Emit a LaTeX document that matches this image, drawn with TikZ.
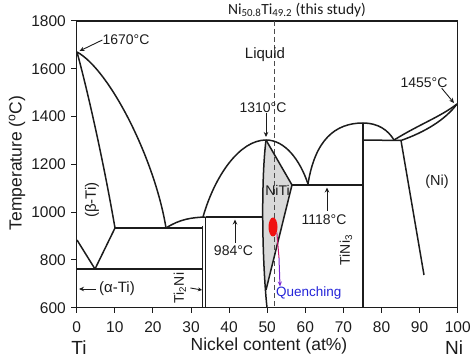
\documentclass[tikz,border=0pt]{standalone}
\usepackage{fontspec}
\setmainfont{Liberation Sans}
\newfontfamily\titlefont{Carlito}
\usetikzlibrary{arrows.meta,shapes.geometric}
\definecolor{linec}{HTML}{1C1C1C}
\definecolor{nitigray}{HTML}{D9D9D9}
\definecolor{dotred}{HTML}{F01010}
\definecolor{qpink}{HTML}{C8186E}
\definecolor{qpurple}{HTML}{7A22D0}
\definecolor{qblue}{HTML}{2323D8}
\begin{document}
\begin{tikzpicture}[x=1pt,y=-1pt,
  ph/.style={line width=1.5pt, draw=linec, line join=round},
  frame/.style={line width=1.5pt, draw=linec},
  lbl/.style={font=\fontsize{14}{16}\selectfont, inner sep=0pt, text=linec},
  ticklbl/.style={font=\fontsize{15.5}{17}\selectfont, inner sep=0pt, text=linec},
  axlbl/.style={font=\fontsize{17.5}{19}\selectfont, inner sep=0pt, text=linec},
  ptr/.style={-{Stealth[length=5pt,width=4.5pt]}, line width=0.9pt, draw=linec}]
\useasboundingbox (0,0) rectangle (474,363);

% NiTi single-phase region
\fill[nitigray] (266,140) .. controls (261,180) and (262,260) .. (267,307) -- (266,288) -- (292,185) -- cycle;

% frame and ticks
\draw[frame] (76.7,21) rectangle (457.7,307.7);
\foreach \t/\yy in {1800/21,1600/68.78,1400/116.56,1200/164.34,1000/212.12,800/259.9,600/307.68}{
  \draw[frame, line width=1pt] (71,\yy) -- (76.7,\yy);
  \node[ticklbl, anchor=east] (yl\t) at (66,\yy) {\t};
}
\foreach \v/\xx in {0/76.7,10/114.8,20/152.9,30/191.0,40/229.1,50/267.2,60/305.3,70/343.4,80/381.5,90/419.6,100/457.7}{
  \draw[frame, line width=1pt] (\xx,307.7) -- (\xx,313);
  \node[ticklbl] (xl\v) at (\xx,327.5) {\v};
}

% axis labels
\node[axlbl, rotate=90] (ylab) at (17,163) {Temperature (\textsuperscript{o}C)};
\node[axlbl] (xlab) at (269,346) {Nickel content (at\%)};
\node[font=\fontsize{19}{21}\selectfont, inner sep=0pt, text=linec] (ti) at (79,348) {Ti};
\node[font=\fontsize{19}{21}\selectfont, inner sep=0pt, text=linec] (ni) at (454,348) {Ni};

% composition line
\node[font=\titlefont\fontsize{15.5}{17}\selectfont, inner sep=0pt, text=linec] (title) at (297,10) {Ni\textsubscript{50.8}Ti\textsubscript{49.2} (this study)};
\draw[gray!60!black, line width=0.9pt, dash pattern=on 5pt off 3pt] (274,21) -- (274,307.7);

% Ti side
\draw[ph] (77,52) .. controls (110,70) and (155,160) .. (166,228);
\draw[ph] (77,52) .. controls (90,100) and (105,170) .. (115,228);
\draw[ph] (115,228) -- (202.5,228);
\draw[ph] (166,228) .. controls (180,219) and (192,217.5) .. (205.5,217);
\draw[ph] (77,240) -- (95,269) -- (115,228);
\draw[ph] (77,269) -- (202.5,269);
\draw[ph] (202.5,226) -- (202.5,307.7);
\draw[ph] (205.5,217) -- (205.5,307.7);

% NiTi
\draw[ph] (205.5,217) -- (262.5,217);
\draw[ph] (203,217) .. controls (215,175) and (240,140) .. (266,140);
\draw[ph] (266,140) .. controls (285,140) and (300,160) .. (308,184);
\draw[ph] (266,140) .. controls (261,180) and (262,260) .. (267,307.7);
\draw[ph] (266,140) -- (292,185) -- (266,290);
\draw[ph] (292,185) -- (363,185);

% TiNi3 and Ni side
\draw[ph] (308,184) .. controls (315,140) and (335,123) .. (363,123) .. controls (378,123) and (388,130) .. (394,140);
\draw[ph] (363,123) -- (363,307.7);
\draw[ph] (363,140) -- (401,140.5);
\draw[ph] (394,140) .. controls (420,124) and (440,117) .. (457,104);
\draw[ph] (401,140.5) .. controls (425,132) and (445,120) .. (457,104);
\draw[ph] (401,140.5) -- (424,275);

% labels
\node[lbl] (t1670) at (126,40) {1670°C};
\coordinate (p1670) at (79.5,51);
\draw[ptr] (t1670.west) -- (p1670);

\node[lbl, font=\fontsize{15}{17}\selectfont] (liquid) at (265,55) {Liquid};

\node[lbl] (t1310) at (263,108) {1310°C};
\coordinate (p1310) at (266,137);
\draw[ptr] ([xshift=3pt]t1310.south) -- (p1310);

\node[lbl] (t1455) at (424,83) {1455°C};
\coordinate (p1455) at (454,103);
\draw[ptr] ([xshift=-6pt]t1455.south east) -- (p1455);

\node[lbl, font=\fontsize{15}{17}\selectfont, rotate=90] (beta) at (92,200) {(β-Ti)};
\node[lbl, font=\fontsize{15}{17}\selectfont] (alpha) at (117,289) {(α-Ti)};
\coordinate (palpha) at (79,289);
\draw[ptr] (alpha.west) ++(-3,0) -- (palpha);

\node[lbl, rotate=90] (ti2ni) at (180,288) {Ti\textsubscript{2}Ni};
\coordinate (pti2ni) at (202,290);
\draw[ptr, -{Stealth[length=4pt,width=4pt]}] ([xshift=4pt]ti2ni.south) -- (pti2ni);

\node[lbl] (t984) at (233.5,251) {984°C};
\coordinate (p984) at (235,219.5);
\draw[ptr] ([xshift=1.5pt]t984.north) ++(0,-3) -- (p984);

\node[lbl] (t1118) at (324,220) {1118°C};
\coordinate (p1118) at (327,187.5);
\draw[ptr] ([xshift=3pt]t1118.north) ++(0,-4) -- (p1118);

\node[lbl] (niti) at (277.5,190) {NiTi};
\node[lbl, rotate=90] (tini3) at (346,250) {TiNi\textsubscript{3}};
\node[lbl, font=\fontsize{14.5}{16}\selectfont] (nilbl) at (437,182) {(Ni)};

% sample and quenching
\node[ellipse, fill=dotred, minimum width=9pt, minimum height=19pt, inner sep=0pt] (dot) at (273,227) {};
\node[font=\fontsize{13.5}{15}\selectfont, inner sep=0pt, text=qblue, anchor=west] (quench) at (276,293) {Quenching};
\coordinate (qmid) at (279,258);
\draw[line width=1pt, draw=qpink] (dot.-55) -- (qmid);
\draw[line width=1pt, draw=qpurple, -{Stealth[length=5pt,width=4pt]}] (qmid) -- ([xshift=4pt]quench.north west);
\end{tikzpicture}
\end{document}
